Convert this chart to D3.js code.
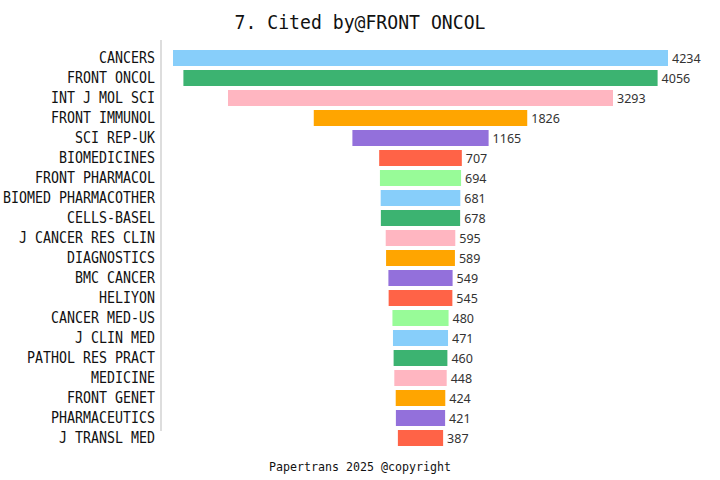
<!DOCTYPE html>
<html>
<head>
<meta charset="utf-8">
<script src="https://cdn.jsdelivr.net/npm/d3@7"></script>
<style>
  body { margin: 0; background: #fff; }
  svg { display: block; }
</style>
</head>
<body>
<div id="chart"></div>
<script>
const journals = ["CANCERS", "FRONT ONCOL", "INT J MOL SCI", "FRONT IMMUNOL", "SCI REP-UK",
  "BIOMEDICINES", "FRONT PHARMACOL", "BIOMED PHARMACOTHER", "CELLS-BASEL", "J CANCER RES CLIN",
  "DIAGNOSTICS", "BMC CANCER", "HELIYON", "CANCER MED-US", "J CLIN MED",
  "PATHOL RES PRACT", "MEDICINE", "FRONT GENET", "PHARMACEUTICS", "J TRANSL MED"];
const citations = [4234, 4056, 3293, 1826, 1165, 707, 694, 681, 678, 595,
  589, 549, 545, 480, 471, 460, 448, 424, 421, 387];
const palette = ["#87CEFA", "#3CB371", "#FFB6C1", "#FFA500", "#9370DB", "#FF6347", "#98FB98"];

const width = 720, height = 480;
const centerX = 420.5;

const svg = d3.select("#chart").append("svg")
  .attr("width", width).attr("height", height);

const y = d3.scaleBand()
  .domain(journals)
  .range([48, 448])
  .paddingInner(0.2)
  .paddingOuter(0.1);

const w = d3.scaleLinear()
  .domain([0, d3.max(citations)])
  .range([0, 495]);

const color = d3.scaleOrdinal().domain(journals).range(palette);

// left axis line
svg.append("line")
  .attr("x1", 161).attr("x2", 161)
  .attr("y1", 40).attr("y2", 431)
  .attr("stroke", "#dddddd").attr("stroke-width", 2);

// category labels (monospaced look)
svg.selectAll(".cat")
  .data(journals)
  .join("text")
  .attr("class", "cat")
  .attr("x", 155)
  .attr("y", d => y(d) + y.bandwidth() / 2)
  .attr("text-anchor", "end")
  .attr("dominant-baseline", "central")
  .attr("font-family", "'DejaVu Sans Mono', monospace")
  .attr("font-size", 15)
  .attr("textLength", d => d.length * 8)
  .attr("lengthAdjust", "spacingAndGlyphs")
  .attr("fill", "#111")
  .text(d => d);

// centred bars
svg.selectAll(".bar")
  .data(citations)
  .join("rect")
  .attr("class", "bar")
  .attr("x", d => centerX - w(d) / 2)
  .attr("y", (d, i) => y(journals[i]))
  .attr("width", d => w(d))
  .attr("height", y.bandwidth())
  .attr("fill", (d, i) => color(journals[i]));

// value labels
svg.selectAll(".val")
  .data(citations)
  .join("text")
  .attr("class", "val")
  .attr("x", d => centerX + w(d) / 2 + 4)
  .attr("y", (d, i) => y(journals[i]) + y.bandwidth() / 2)
  .attr("dominant-baseline", "central")
  .attr("font-family", "'Noto Sans', sans-serif")
  .attr("font-size", 12.5)
  .attr("fill", "#333")
  .text(d => d);

// title
svg.append("text")
  .attr("x", 360).attr("y", 22)
  .attr("text-anchor", "middle")
  .attr("dominant-baseline", "central")
  .attr("font-family", "'DejaVu Sans Mono', monospace")
  .attr("font-size", 20)
  .attr("textLength", 251)
  .attr("lengthAdjust", "spacingAndGlyphs")
  .attr("fill", "#111")
  .text("7. Cited by@FRONT ONCOL");

// footer
svg.append("text")
  .attr("x", 360).attr("y", 466)
  .attr("text-anchor", "middle")
  .attr("dominant-baseline", "central")
  .attr("font-family", "'DejaVu Sans Mono', monospace")
  .attr("font-size", 13)
  .attr("textLength", 182)
  .attr("lengthAdjust", "spacingAndGlyphs")
  .attr("fill", "#111")
  .text("Papertrans 2025 @copyright");
</script>
</body>
</html>
